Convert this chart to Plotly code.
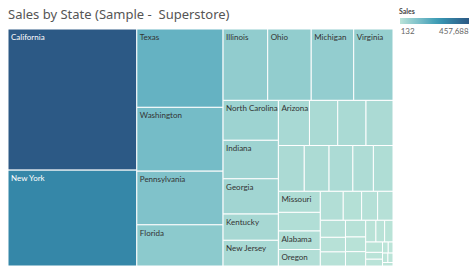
import plotly.graph_objects as go

states = ["California", "New York", "Texas", "Washington", "Pennsylvania", "Florida",
          "Illinois", "Ohio", "Michigan", "Virginia", "North Carolina", "Indiana",
          "Georgia", "Kentucky", "New Jersey", "Arizona", "Wisconsin", "Colorado",
          "Tennessee", "Minnesota", "Massachusetts", "Delaware", "Maryland",
          "Rhode Island", "Missouri", "Oklahoma", "Alabama", "Oregon", "Nevada",
          "Connecticut", "Arkansas", "Utah", "Mississippi", "Louisiana", "Vermont",
          "South Carolina", "Nebraska", "New Hampshire", "Montana", "New Mexico",
          "Iowa", "Idaho", "Kansas", "District of Columbia", "Wyoming",
          "South Dakota", "Maine", "West Virginia", "North Dakota"]
sales = [457688, 310876, 170188, 138641, 116512, 89474,
         80166, 78258, 76270, 70637, 55603, 53555,
         49096, 36592, 35764, 35282, 32115, 32108,
         30662, 29863, 28634, 27451, 23706,
         22628, 22205, 19683, 19511, 17431, 16729,
         13384, 11678, 11220, 10771, 9217, 8929,
         8482, 7465, 7293, 5589, 4784,
         4580, 4382, 2914, 2865, 1603,
         1316, 1271, 1210, 920]
labeled = ["California", "New York", "Texas", "Washington", "Pennsylvania", "Florida",
           "Illinois", "Ohio", "Michigan", "Virginia", "North Carolina", "Indiana",
           "Georgia", "Kentucky", "New Jersey", "Arizona", "Missouri", "Alabama", "Oregon"]
legend_min, legend_max = 132, 457688

palette = ["#bce4d8", "#aedcd5", "#a1d5d2", "#95cecf", "#89c8cc", "#7ec1ca", "#72bac6",
           "#66b2c2", "#59acbe", "#4ba5ba", "#419eb6", "#3b96b2", "#358ead", "#3586a7",
           "#347ea1", "#32779b", "#316f96", "#2f6790", "#2d608a", "#2c5985"]
colorscale = [[i / (len(palette) - 1), c] for i, c in enumerate(palette)]

texts = [s if s in labeled else "" for s in states]
text_colors = ["white" if v > 250000 else "#333333" for v in sales]

rng = legend_max - legend_min
fig = go.Figure(go.Treemap(
    labels=states,
    parents=[""] * len(states),
    values=sales,
    text=texts,
    textinfo="text",
    textposition="top left",
    textfont=dict(family="Lato", size=8, color=text_colors),
    root=dict(color="white"),
    marker=dict(
        colors=sales,
        colorscale=colorscale,
        cmin=legend_min,
        cmax=legend_max,
        line=dict(color="white", width=1),
        pad=dict(t=0, l=0, r=0, b=0),
        showscale=True,
        colorbar=dict(
            orientation="h",
            x=400 / 474, xanchor="left",
            y=1 - 18 / 269, yanchor="top",
            lenmode="pixels", len=69,
            thickness=6,
            outlinewidth=0,
            ticks="",
            tickvals=[legend_min + rng * 0.11, legend_min + rng * 0.78],
            ticktext=["132", "457,688"],
            tickfont=dict(family="Lato", size=8, color="#666666"),
            xpad=0, ypad=0,
        ),
    ),
    tiling=dict(packing="squarify", squarifyratio=1.8, pad=0),
    pathbar=dict(visible=False),
    sort=True,
    domain=dict(x=[8 / 474, 393 / 474], y=[1 - 266 / 269, 1 - 29 / 269]),
))

fig.update_layout(
    width=474, height=269,
    margin=dict(l=0, r=0, t=0, b=0),
    paper_bgcolor="white",
    uniformtext=dict(minsize=8, mode="show"),
    title=dict(text="Sales by State (Sample -  Superstore)", x=8 / 474, xanchor="left",
               y=1 - 14 / 269, yanchor="middle",
               font=dict(family="Noto Sans", size=13, color="#555555")),
    annotations=[dict(text="<b>Sales</b>", x=397 / 474, y=1 - 11 / 269, xref="paper", yref="paper",
                      xanchor="left", yanchor="middle", showarrow=False,
                      font=dict(family="Lato", size=7, color="#444444"))],
)

fig.write_html("out.html")
